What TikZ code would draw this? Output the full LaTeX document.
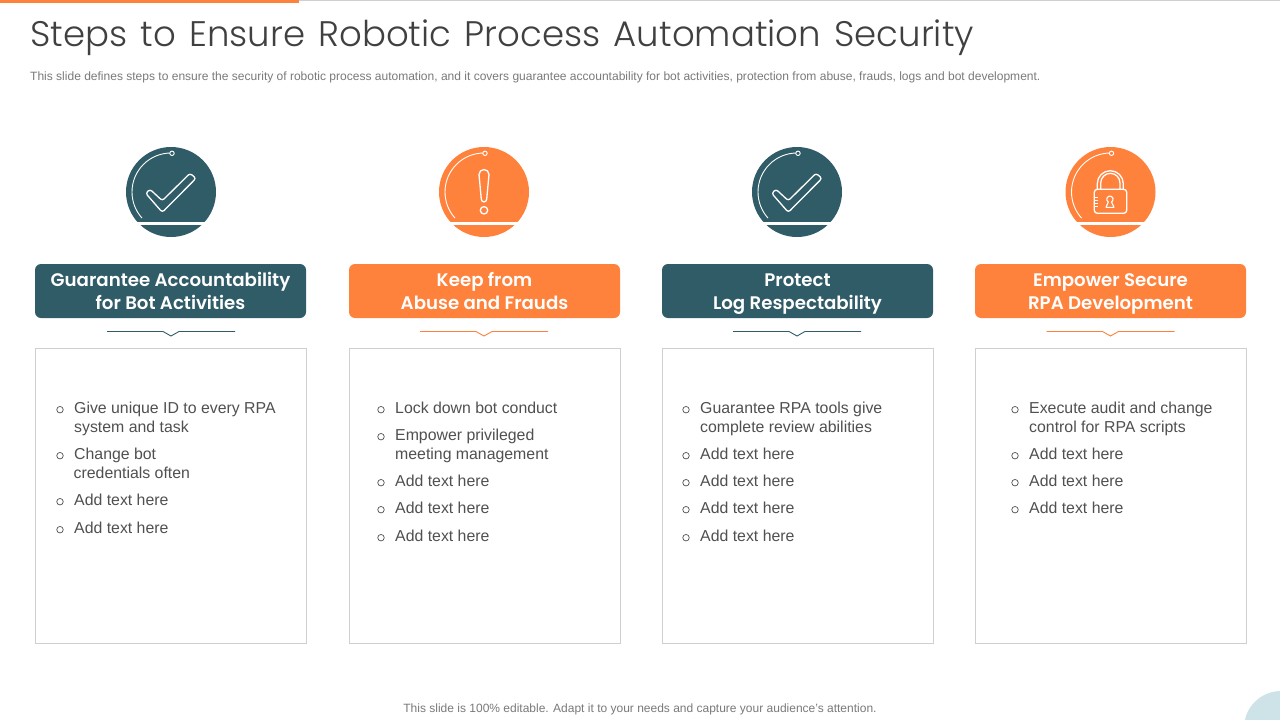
\documentclass[tikz,border=0pt]{standalone}
\usepackage{fontspec}
\setmainfont{Liberation Sans}
\newfontfamily\headf{Poppins SemiBold}
\newfontfamily\titlef{Poppins Light}[WordSpace=1.37]
\definecolor{teal}{HTML}{305C68}
\definecolor{orng}{HTML}{FF823C}
\definecolor{txt}{HTML}{505050}
\definecolor{ttl}{HTML}{404040}
\definecolor{subt}{HTML}{7A7A7A}
\definecolor{edge}{HTML}{CFCFCF}
\definecolor{pale}{HTML}{CDE3E8}
\newcommand{\hl}[1]{\vphantom{Agy}#1}
\newcommand{\hlt}[1]{\rule{0pt}{18pt}\vphantom{Agy}#1}
\tikzset{
 x=1pt,y=-1pt,
 head/.style={draw=none,fill=#1,rounded corners=6pt,minimum width=271pt,minimum height=54pt,inner sep=0pt,align=center,text=white,font=\headf\fontsize{18.2}{23}\selectfont},
 panel/.style={draw=edge,line width=0.8pt,fill=white,minimum width=271pt,minimum height=295pt,inner sep=0pt},
 disc/.style={circle,fill=#1,minimum size=90pt,inner sep=0pt},
 body/.style={anchor=base west,inner sep=0pt,text=txt,font=\fontsize{15.85}{19}\selectfont},
 bull/.style={circle,draw=txt,line width=0.7pt,minimum size=6.5pt,inner sep=0pt},
 ico/.style={draw=white,line width=1.3pt,line join=round},
 arcl/.style={draw=white,line width=0.9pt},
 rulel/.style={draw=#1,line width=0.9pt},
}
% #1 name prefix, #2 x center, #3 colour, #4 panel centre
\newcommand{\colm}[4]{%
 \node[disc=#3] (#1d) at (#2,192) {};
 \fill[white] (#2-42,222) rectangle (#2+42,225);
 \draw[arcl] (#2,153) arc (270:138:39);
 \draw[white,line width=0.9pt,fill=#3] (#2+1,153.3) circle (2.2pt);
 \node[panel] (#1p) at (#4,496) {};
 \draw[rulel=#3] (#2-64,331.5) -- (#2-8,331.5) -- (#2,336) -- (#2+8,331.5) -- (#2+64,331.5);
}
\newcommand{\itm}[5]{% prefix, bullet x, text x, baseline y, text
 \node[bull] (#1b) at (#2,#4-4) {};
 \node[body] (#1t) at (#3,#4) {#5};
}
\begin{document}
\begin{tikzpicture}
\useasboundingbox (0,0) rectangle (1280,720);
\fill[white] (0,0) rectangle (1280,720);
\draw[edge,line width=0.8pt] (299,0.5) -- (1280,0.5);
\fill[orng] (0,0) rectangle (299,3);
\fill[pale] (1281,728) circle (37);
\node[anchor=base west,inner sep=0pt,text=ttl,font=\titlef\fontsize{35.5}{40}\selectfont] (title) at (30,46) {Steps to Ensure Robotic Process Automation Security};
\node[anchor=base west,inner sep=0pt,text=subt,font=\fontsize{12.02}{14}\selectfont] (sub) at (30,80.5) {This slide defines steps to ensure the security of robotic process automation, and it covers guarantee accountability for bot activities, protection from abuse, frauds, logs and bot development.};
\node[anchor=base,inner sep=0pt,text=subt,font=\fontsize{12}{14}\selectfont] (foot) at (640,712.5) {This slide is 100\% editable. Adapt it to your needs and capture your audience's attention.};

\colm{a}{171}{teal}{171}
\colm{b}{484}{orng}{485}
\colm{c}{797}{teal}{798}
\colm{e}{1110.5}{orng}{1111}

\node[head=teal] (ah) at (170.5,291) {\hlt{Guarantee Accountability}\\\hl{for Bot Activities}};
\node[head=orng] (bh) at (484.5,291) {\hlt{Keep from}\\\hl{Abuse and Frauds}};
\node[head=teal] (ch) at (797.5,291) {\hlt{Protect}\\\hl{Log Respectability}};
\node[head=orng] (eh) at (1110.5,291) {\hlt{Empower Secure}\\\hl{RPA Development}};

% check icons
\foreach \cx in {171,797}{
 \draw[ico,rounded corners=2.5pt] (\cx-25.3,193.3) -- (\cx-21,189.3) -- (\cx-8.7,200.7) -- (\cx+19,173.3) -- (\cx+25,178.3) -- (\cx-8.7,212.3) -- cycle;
}
% exclamation
\draw[ico] (479,174.5) arc (180:360:5) -- (486.7,199.2) arc (0:180:2.7) -- cycle;
\draw[ico] (484,210.3) circle (3.7);
% lock
\draw[ico,rounded corners=3pt] (1094.3,189.3) rectangle (1126.7,213.3);
\draw[ico] (1097.3,189.3) -- (1097.3,183.7) arc (180:360:13) -- (1123.3,189.3);
\draw[ico] (1100.7,189.3) -- (1100.7,183) arc (180:360:9.65) -- (1120,189.3);
\draw[ico,line width=1.1pt] (1106,207.3) -- (1108.3,202) arc (120:420:3.2) -- (1114,207.3) -- cycle;
\foreach \yy in {197,200,203,206}{\draw[white,line width=0.8pt] (1094.3,\yy) -- (1098,\yy);}

\itm{a1}{60}{74}{413.7}{Give unique ID to every RPA}
\node[body] (a1u) at (74,432.7) {system and task};
\itm{a2}{60}{74}{459.7}{Change bot}
\node[body] (a2u) at (73.5,478.7) {credentials often};
\itm{a3}{60}{74}{505.7}{Add text here}
\itm{a4}{60}{74}{533.7}{Add text here}

\itm{b1}{381}{395}{413.7}{Lock down bot conduct}
\itm{b2}{381}{395}{440.7}{Empower privileged}
\node[body] (b2u) at (395,459.7) {meeting management};
\itm{b3}{381}{395}{486.7}{Add text here}
\itm{b4}{381}{395}{513.7}{Add text here}
\itm{b5}{381}{395}{541.7}{Add text here}

\itm{c1}{686}{700}{413.7}{Guarantee RPA tools give}
\node[body] (c1u) at (700,432.7) {complete review abilities};
\itm{c2}{686}{700}{459.7}{Add text here}
\itm{c3}{686}{700}{486.7}{Add text here}
\itm{c4}{686}{700}{513.7}{Add text here}
\itm{c5}{686}{700}{541.7}{Add text here}

\itm{e1}{1015}{1029}{413.7}{Execute audit and change}
\node[body] (e1u) at (1029,432.7) {control for RPA scripts};
\itm{e2}{1015}{1029}{459.7}{Add text here}
\itm{e3}{1015}{1029}{486.7}{Add text here}
\itm{e4}{1015}{1029}{513.7}{Add text here}
\end{tikzpicture}
\end{document}
